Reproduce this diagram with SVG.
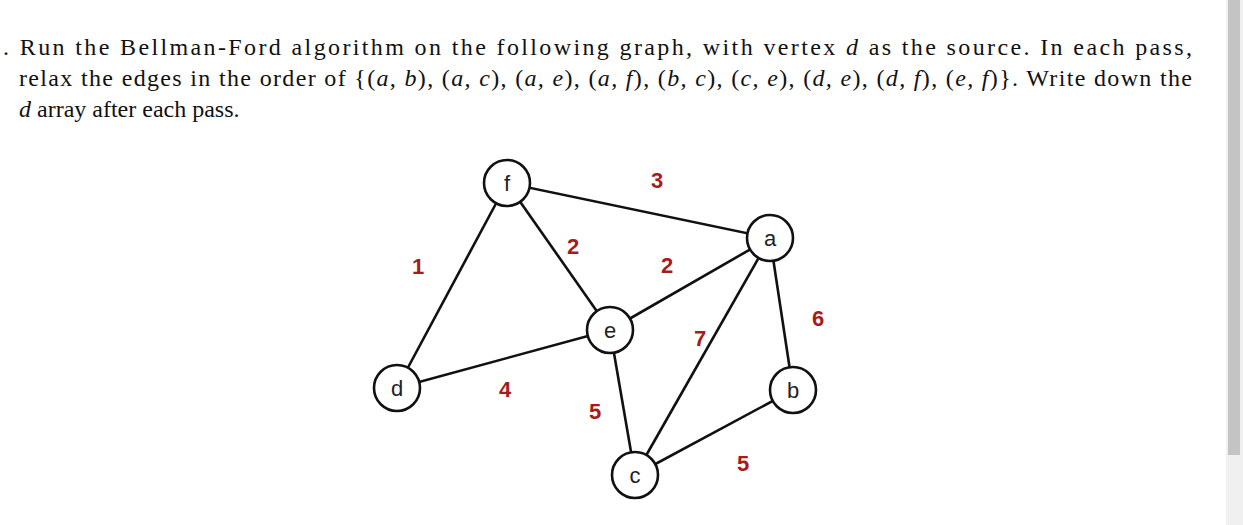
<svg xmlns="http://www.w3.org/2000/svg" width="1243" height="525" viewBox="0 0 1243 525">
<style>
.t{font-family:"Liberation Serif",serif;font-size:24px;fill:#111}
.m{font-style:italic}
.e{stroke:#111;stroke-width:2.6}
.n{fill:#fff;stroke:#111;stroke-width:2.6}
.nl{font-family:"Liberation Sans",Arial,sans-serif;font-size:22px;fill:#222;text-anchor:middle}
.w{font-family:"Liberation Sans",Arial,sans-serif;font-size:22px;font-weight:bold;fill:#a51c1c;text-anchor:middle}
</style>
<rect width="1243" height="525" fill="#fff"/>
<rect x="1226" y="0" width="17" height="525" fill="#f0f0f0"/>
<rect x="1228" y="0" width="12" height="455" fill="#c4c4c4"/>
<text class="t" x="3" y="55" textLength="1189" lengthAdjust="spacing">. Run the Bellman-Ford algorithm on the following graph, with vertex <tspan class="m">d</tspan> as the source.  In each pass,</text>
<text class="t" x="19" y="86" textLength="1173" lengthAdjust="spacing">relax the edges in the order of {(<tspan class="m">a, b</tspan>), (<tspan class="m">a, c</tspan>), (<tspan class="m">a, e</tspan>), (<tspan class="m">a, f</tspan>), (<tspan class="m">b, c</tspan>), (<tspan class="m">c, e</tspan>), (<tspan class="m">d, e</tspan>), (<tspan class="m">d, f</tspan>), (<tspan class="m">e, f</tspan>)}. Write down the</text>
<text class="t" x="19" y="117"><tspan class="m">d</tspan> array after each pass.</text>
<g id="edges">
<line class="e" x1="507" y1="183" x2="770" y2="238"/>
<line class="e" x1="507" y1="183" x2="397" y2="388"/>
<line class="e" x1="507" y1="183" x2="610" y2="330"/>
<line class="e" x1="610" y1="330" x2="770" y2="238"/>
<line class="e" x1="397" y1="388" x2="610" y2="330"/>
<line class="e" x1="610" y1="330" x2="635" y2="475"/>
<line class="e" x1="770" y1="238" x2="635" y2="475"/>
<line class="e" x1="770" y1="238" x2="793" y2="390"/>
<line class="e" x1="635" y1="475" x2="793" y2="390"/>
<text class="w" x="657" y="188">3</text>
<text class="w" x="573" y="254">2</text>
<text class="w" x="418" y="274">1</text>
<text class="w" x="667" y="273">2</text>
<text class="w" x="818" y="326">6</text>
<text class="w" x="700" y="346">7</text>
<text class="w" x="505" y="397">4</text>
<text class="w" x="595" y="419">5</text>
<text class="w" x="743" y="471">5</text>
</g>
<g id="f"><circle class="n" cx="507" cy="183" r="23"/><text class="nl" x="507" y="191">f</text></g>
<g id="a"><circle class="n" cx="770" cy="238" r="23"/><text class="nl" x="770" y="246">a</text></g>
<g id="e"><circle class="n" cx="610" cy="330" r="23"/><text class="nl" x="610" y="338">e</text></g>
<g id="d"><circle class="n" cx="397" cy="388" r="23"/><text class="nl" x="397" y="396">d</text></g>
<g id="b"><circle class="n" cx="793" cy="390" r="23"/><text class="nl" x="793" y="398">b</text></g>
<g id="c"><circle class="n" cx="635" cy="475" r="23"/><text class="nl" x="635" y="483">c</text></g>
</svg>
